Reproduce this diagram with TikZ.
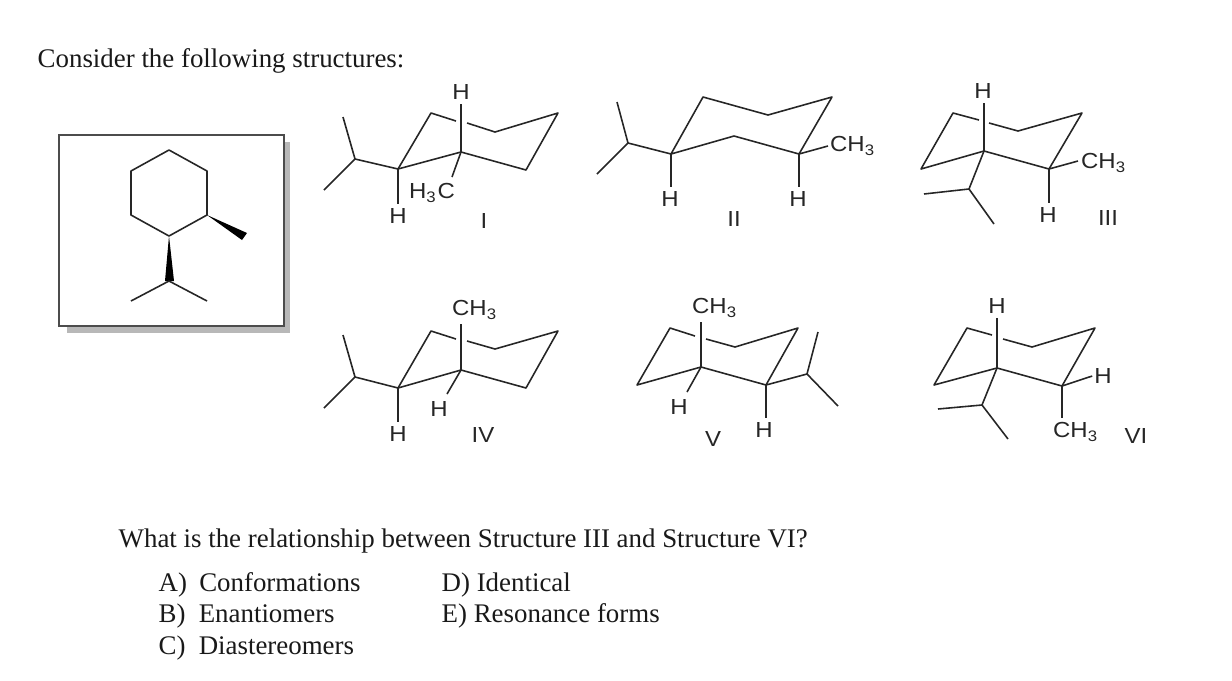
\documentclass[tikz,border=0pt]{standalone}
\usepackage{fontspec}
\setmainfont{Liberation Serif}
\setsansfont{Liberation Sans}
\newfontfamily\atomfont[FakeStretch=1.1]{Liberation Sans}
\tikzset{
	bond/.style={line width=0.45pt,black!85,line join=round},
	atom/.style={font=\fontsize{6.2}{7}\atomfont,inner sep=1.2pt,black!85},
	txt/.style={font=\fontsize{7.65}{9}\selectfont,anchor=base west,inner sep=0pt,black!90}
}
\begin{document}
\begin{tikzpicture}
	\useasboundingbox (0,0) rectangle (12.32,6.8);

	%titles
	\node[txt] (consider) at (0.37,6.13) {Consider the following structures:};
	\node[txt] (question) at (1.18,1.33) {What is the relationship between Structure III and Structure VI?};
	\node[txt] (optA) at (1.58,0.89) {A)\kern0.055cm\ Conformations};
	\node[txt] (optB) at (1.58,0.58) {B)\kern0.065cm\ Enantiomers};
	\node[txt] (optC) at (1.58,0.26) {C)\kern0.065cm\ Diastereomers};
	\node[txt] (optD) at (4.41,0.89) {D) Identical};
	\node[txt] (optE) at (4.41,0.58) {E) Resonance forms};

	%boxed structure-------------------------------------
	\fill[black!28] (0.67,3.47) rectangle (2.90,5.38); %shadow
	\draw[fill=white,draw=black!70,line width=0.55pt] (0.59,3.54) rectangle (2.84,5.45); %box
	\draw[bond] (1.69,5.30) -- (2.07,5.09) -- (2.07,4.65) -- (1.69,4.44) -- (1.31,4.65) -- (1.31,5.09) -- cycle; %ring
	\fill[black] (2.07,4.65) -- (2.47,4.47) -- (2.42,4.40) -- cycle; %wedge methyl
	\fill[black] (1.69,4.44) -- (1.74,3.99) -- (1.65,3.99) -- cycle; %wedge isopropyl
	\draw[bond] (1.31,3.79) -- (1.69,3.99) -- (2.07,3.79); %isopropyl

	%Structure I-----------------------------------------
	\coordinate (c1a) at (3.98,5.11);
	\coordinate (c1b) at (4.61,5.28);
	\draw[bond] (c1a) -- (4.31,5.67) -- (4.56,5.59); %ring back
	\draw[bond] (4.67,5.57) -- (4.95,5.48) -- (5.58,5.67) -- (5.26,5.10) -- (c1b) -- (c1a); %ring front
	\draw[bond] (3.43,5.63) -- (3.55,5.21) -- (3.24,4.90); %isopropyl
	\draw[bond] (3.55,5.21) -- (c1a);
	\node[atom] (h1a) at (3.98,4.64) {H};
	\node[atom] (h1b) at (4.61,5.88) {H};
	\node[atom] (me1) at (4.32,4.87) {H\textsubscript{3}C};
	\node[atom] (num1) at (4.84,4.59) {I};
	\draw[bond] (c1a) -- (c1a |- h1a.north);
	\draw[bond] (c1b) -- (c1b |- h1b.south);
	\draw[bond] (c1b) -- (4.52,5.03);

	%Structure II----------------------------------------
	\coordinate (c2a) at (6.71,5.26);
	\coordinate (c2b) at (7.99,5.26);
	\draw[bond] (c2a) -- (7.03,5.83) -- (7.68,5.65) -- (8.32,5.83) -- (c2b) -- (7.34,5.44) -- cycle; %ring
	\draw[bond] (6.17,5.78) -- (6.28,5.37) -- (5.97,5.06); %isopropyl
	\draw[bond] (6.28,5.37) -- (c2a);
	\node[atom] (h2a) at (6.70,4.81) {H};
	\node[atom] (h2b) at (7.98,4.81) {H};
	\node[atom] (me2) at (8.53,5.34) {CH\textsubscript{3}};
	\node[atom] (num2) at (7.34,4.61) {II};
	\draw[bond] (c2a) -- (c2a |- h2a.north);
	\draw[bond] (c2b) -- (c2b |- h2b.north);
	\draw[bond] (c2b) -- (8.28,5.34);

	%Structure III---------------------------------------
	\coordinate (c3a) at (9.84,5.29);
	\coordinate (c3b) at (10.49,5.11);
	\draw[bond] (9.79,5.60) -- (9.53,5.67) -- (9.21,5.11) -- (c3a) -- (c3b); %ring back
	\draw[bond] (9.89,5.57) -- (10.18,5.49) -- (10.82,5.67) -- (c3b); %ring front
	\draw[bond] (9.24,4.86) -- (9.69,4.91) -- (9.94,4.56); %isopropyl
	\draw[bond] (9.69,4.91) -- (c3a);
	\node[atom] (h3a) at (9.83,5.89) {H};
	\node[atom] (h3b) at (10.48,4.65) {H};
	\node[atom] (me3) at (11.04,5.17) {CH\textsubscript{3}};
	\node[atom] (num3) at (11.08,4.62) {III};
	\draw[bond] (c3a) -- (c3a |- h3a.south);
	\draw[bond] (c3b) -- (c3b |- h3b.north);
	\draw[bond] (c3b) -- (10.78,5.19);

	%Structure IV----------------------------------------
	\coordinate (c4a) at (3.98,2.92);
	\coordinate (c4b) at (4.61,3.10);
	\draw[bond] (c4a) -- (4.31,3.49) -- (4.56,3.41); %ring back
	\draw[bond] (4.67,3.39) -- (4.95,3.31) -- (5.58,3.49) -- (5.26,2.92) -- (c4b) -- (c4a); %ring front
	\draw[bond] (3.43,3.45) -- (3.55,3.03) -- (3.24,2.72); %isopropyl
	\draw[bond] (3.55,3.03) -- (c4a);
	\node[atom] (h4a) at (3.98,2.46) {H};
	\node[atom] (h4b) at (4.39,2.71) {H};
	\node[atom] (me4) at (4.75,3.70) {CH\textsubscript{3}};
	\node[atom] (num4) at (4.83,2.45) {IV};
	\draw[bond] (c4a) -- (c4a |- h4a.north);
	\draw[bond] (c4b) -- (4.47,2.86);
	\draw[bond] (c4b) -- (c4b |- me4.south);

	%Structure V-----------------------------------------
	\coordinate (c5a) at (7.01,3.13);
	\coordinate (c5b) at (7.66,2.95);
	\draw[bond] (6.95,3.44) -- (6.70,3.52) -- (6.37,2.95) -- (c5a) -- (c5b); %ring back
	\draw[bond] (7.06,3.41) -- (7.35,3.33) -- (7.98,3.52) -- (c5b); %ring front
	\draw[bond] (8.18,3.48) -- (8.07,3.06) -- (8.38,2.74); %isopropyl
	\draw[bond] (8.07,3.06) -- (c5b);
	\node[atom] (h5a) at (6.79,2.73) {H};
	\node[atom] (h5b) at (7.64,2.50) {H};
	\node[atom] (me5) at (7.15,3.72) {CH\textsubscript{3}};
	\node[atom] (num5) at (7.13,2.41) {V};
	\draw[bond] (c5a) -- (6.87,2.88);
	\draw[bond] (c5b) -- (c5b |- h5b.north);
	\draw[bond] (c5a) -- (c5a |- me5.south);

	%Structure VI----------------------------------------
	\coordinate (c6a) at (9.97,3.12);
	\coordinate (c6b) at (10.62,2.94);
	\draw[bond] (9.92,3.45) -- (9.67,3.52) -- (9.34,2.95) -- (c6a) -- (c6b); %ring back
	\draw[bond] (10.03,3.41) -- (10.32,3.33) -- (10.95,3.52) -- (c6b); %ring front
	\draw[bond] (9.38,2.71) -- (9.82,2.75) -- (10.08,2.41); %isopropyl
	\draw[bond] (9.82,2.75) -- (c6a);
	\node[atom] (h6a) at (9.97,3.74) {H};
	\node[atom,inner sep=0.4pt] (h6b) at (11.03,3.04) {H};
	\node[atom] (me6) at (10.76,2.48) {CH\textsubscript{3}};
	\node[atom] (num6) at (11.36,2.44) {VI};
	\draw[bond] (c6a) -- (c6a |- h6a.south);
	\draw[bond] (c6b) -- (h6b.west);
	\draw[bond] (c6b) -- (c6b |- me6.north);
\end{tikzpicture}
\end{document}
